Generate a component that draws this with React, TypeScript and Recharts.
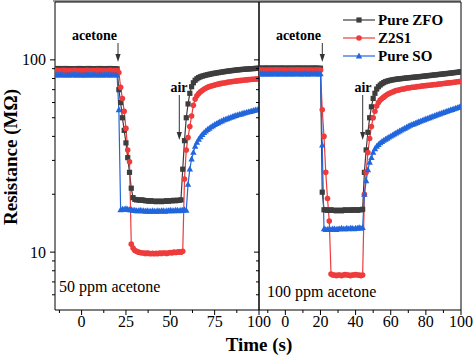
import React from 'react';
import { LineChart, Line, XAxis, YAxis, ReferenceLine } from 'recharts';

// time in seconds, same sampling for both panels
const TIME_S = [
  -15, -14, -13, -12, -11, -10, -9, -8, -7, -6, -5, -4, -3, -2, -1, 0, 1, 2, 3, 4,
  5, 6, 7, 8, 9, 10, 11, 12, 13, 14, 15, 16, 17, 18, 19, 20, 21, 22, 23, 24,
  25, 26, 27, 28, 29, 30, 31, 32, 33, 34, 35, 36, 37, 38, 39, 40, 41, 42, 43, 44,
  45, 46, 47, 48, 49, 50, 51, 52, 53, 54, 55, 56, 57, 58, 59, 60, 61, 62, 63, 64,
  65, 66, 67, 68, 69, 70, 71, 72, 73, 74, 75, 76, 77, 78, 79, 80, 81, 82, 83, 84,
  85, 86, 87, 88, 89, 90, 91, 92, 93, 94, 95, 96, 97, 98, 99, 100,
];

// 50 ppm acetone (MΩ)
const ZFO_50 = [
  90.1, 90.0, 90.2, 89.9, 90.0, 90.1, 90.2, 89.9, 90.0, 90.1,
  90.0, 89.8, 90.0, 90.1, 90.2, 90.0, 89.9, 90.1, 90.0, 90.2,
  90.1, 90.0, 89.9, 90.0, 90.1, 90.2, 90.0, 89.9, 90.1, 90.0,
  90.1, 90.2, 90.0, 89.9, 90.0, 89.8,
  70, 60, 50, 43, 37, 31, 26, 21.5, 19.2,
  18.8, 18.7, 18.7, 18.6, 18.7, 18.6, 18.5, 18.5, 18.4, 18.5,
  18.4, 18.4, 18.3, 18.4, 18.4, 18.3, 18.4, 18.4, 18.5, 18.4,
  18.5, 18.5, 18.6, 18.5, 18.6, 18.6, 18.7,
  27, 38, 50, 59, 67, 72.5, 76, 78.3, 79.8, 80.9,
  81.7, 82.3, 82.8, 83.3, 83.7, 84.1, 84.5, 84.9, 85.2, 85.5,
  85.8, 86.1, 86.4, 86.7, 87.0, 87.3, 87.5, 87.8, 88.0, 88.3,
  88.5, 88.7, 88.9, 89.1, 89.3, 89.4, 89.6, 89.7, 89.9, 90.0,
  90.1, 90.3, 90.4, 90.5,
];
const Z2S1_50 = [
  88.2, 88.0, 88.1, 87.9, 88.0, 88.2, 88.1, 87.9, 88.0, 88.1,
  88.0, 88.2, 87.9, 88.0, 88.1, 88.0, 87.8, 88.0, 88.2, 88.1,
  88.0, 87.9, 88.1, 88.0, 88.2, 88.0, 87.9, 88.1, 88.0, 88.1,
  88.0, 88.2, 88.0, 87.9, 88.1, 88.0,
  86, 72, 63, 54, 44, 34, 29.5,
  11, 10.5, 10.2, 10.1, 10.0, 9.95, 9.9, 9.9, 9.85, 9.9,
  9.85, 9.8, 9.85, 9.8, 9.85, 9.8, 9.9, 9.85, 9.9, 9.9,
  9.85, 9.9, 9.95, 9.9, 10.0, 9.95, 10.0, 10.05, 10.0, 10.1,
  24, 34, 39.5, 45, 51, 58, 62.5, 65, 66.8, 68.2,
  69.3, 70.3, 71.2, 72.0, 72.6, 73.1, 73.6, 74.0, 74.4, 74.8,
  75.2, 75.5, 75.8, 76.1, 76.4, 76.7, 77.0, 77.2, 77.4, 77.6,
  77.8, 78.0, 78.2, 78.4, 78.6, 78.7, 78.9, 79.0, 79.2, 79.3,
  79.5, 79.6, 79.8,
];
const SO_50 = [
  83.6, 83.4, 83.5, 83.7, 83.5, 83.3, 83.5, 83.6, 83.4, 83.5,
  83.5, 83.7, 83.4, 83.5, 83.6, 83.3, 83.5, 83.4, 83.6, 83.5,
  83.4, 83.5, 83.7, 83.5, 83.4, 83.6, 83.5, 83.3, 83.5, 83.6,
  83.5, 83.4, 83.6, 83.5, 83.5, 83.3,
  55,
  16.6, 16.7, 16.7, 16.8, 16.7, 16.6, 16.6, 16.5, 16.5, 16.4,
  16.4, 16.5, 16.4, 16.4, 16.3, 16.4, 16.3, 16.3, 16.4, 16.3,
  16.3, 16.4, 16.3, 16.4, 16.4, 16.3, 16.4, 16.4, 16.5, 16.4,
  16.4, 16.5, 16.5, 16.4, 16.5, 16.5, 16.6, 16.5,
  22.5, 27, 30.5, 33, 35.5, 37.2, 38.6, 39.8, 40.9,
  41.8, 42.6, 43.4, 44.1, 44.8, 45.4, 46.0, 46.6, 47.1, 47.6,
  48.1, 48.6, 49.0, 49.4, 49.8, 50.2, 50.6, 51.0, 51.3, 51.7,
  52.0, 52.3, 52.7, 53.0, 53.3, 53.6, 53.9, 54.2, 54.5, 54.8,
  55.0, 55.3,
];

// 100 ppm acetone (MΩ)
const ZFO_100 = [
  90.5, 90.6, 90.4, 90.5, 90.7, 90.5, 90.4, 90.6, 90.5, 90.5,
  90.6, 90.4, 90.5, 90.7, 90.5, 90.4, 90.5, 90.6, 90.5, 90.4,
  90.6, 90.5, 90.5, 90.7, 90.4, 90.5, 90.6, 90.5, 90.4, 90.6,
  90.5, 90.5, 90.7, 90.5, 90.4, 90.5,
  20.5,
  16.6, 16.6, 16.5, 16.5, 16.6, 16.5, 16.5, 16.4, 16.5, 16.5,
  16.4, 16.5, 16.6, 16.5, 16.5, 16.6, 16.5, 16.6, 16.6, 16.5,
  16.6, 16.6, 16.7,
  26, 34, 42, 50, 57, 63, 67, 70.5, 72.5, 74,
  75.2, 76.2, 77.0, 77.5, 78.0, 78.4, 78.7, 79.0, 79.3, 79.5,
  79.7, 79.9, 80.1, 80.3, 80.5, 80.7, 80.9, 81.0, 81.2, 81.4,
  81.5, 81.7, 81.9, 82.1, 82.3, 82.5, 82.7, 82.9, 83.1, 83.3,
  83.5, 83.7, 83.9, 84.1, 84.3, 84.5, 84.7, 84.9, 85.1, 85.3,
  85.5, 85.8, 86.0, 86.2, 86.5, 86.8,
];
const Z2S1_100 = [
  88.5, 88.4, 88.6, 88.5, 88.3, 88.5, 88.6, 88.4, 88.5, 88.5,
  88.7, 88.5, 88.4, 88.5, 88.6, 88.5, 88.3, 88.5, 88.6, 88.4,
  88.5, 88.5, 88.7, 88.4, 88.5, 88.6, 88.5, 88.4, 88.5, 88.6,
  88.5, 88.3, 88.5, 88.6, 88.5, 88.4,
  55, 40, 26, 19, 14.5,
  7.7, 7.6, 7.6, 7.55, 7.6, 7.6, 7.55, 7.6, 7.65, 7.6,
  7.6, 7.55, 7.6, 7.6, 7.65, 7.6, 7.6, 7.55, 7.6,
  20, 26, 33, 39, 45, 50, 54, 57.5, 60, 61.8,
  63, 64, 65, 66, 66.8, 67.5, 68.1, 68.6, 69.3, 69.5,
  69.9, 70.4, 70.5, 70.8, 71.3, 71.4, 71.6, 72.0, 72.1, 72.3,
  72.6, 72.7, 72.9, 73.2, 73.3, 73.5, 73.7, 73.8, 74.0, 74.2,
  74.4, 74.5, 74.8, 74.9, 75.1, 75.4, 75.5, 75.7, 75.9, 76.1,
  76.3, 76.5, 76.7, 76.9, 77.1, 77.3,
];
const SO_100 = [
  84.5, 84.4, 84.6, 84.5, 84.3, 84.5, 84.6, 84.4, 84.5, 84.5,
  84.6, 84.4, 84.5, 84.7, 84.5, 84.4, 84.5, 84.6, 84.5, 84.4,
  84.6, 84.5, 84.5, 84.7, 84.4, 84.5, 84.6, 84.5, 84.4, 84.6,
  84.5, 84.5, 84.6, 84.5, 84.4, 84.5,
  36,
  13.2, 13.1, 13.1, 13.2, 13.1, 13.2, 13.2, 13.1, 13.2, 13.2,
  13.3, 13.2, 13.2, 13.3, 13.2, 13.3, 13.3, 13.2, 13.3, 13.3,
  13.4, 13.3, 13.4,
  20, 23.5, 26.8, 29.3, 31, 33, 34.5, 35.5, 36.3, 37,
  37.6, 38.1, 38.6, 39.1, 39.6, 40.1, 40.6, 41.1, 41.6, 42.1,
  42.6, 43.1, 43.6, 44.1, 44.6, 45.1, 45.6, 46.0, 46.4, 46.8,
  47.2, 47.6, 48.0, 48.4, 48.8, 49.2, 49.6, 50.0, 50.4, 50.8,
  51.2, 51.6, 52.0, 52.4, 52.8, 53.2, 53.6, 54.0, 54.4, 54.8,
  55.2, 55.6, 56.0, 56.4, 56.8, 57.2,
];

const Y_TICKS = [6, 7, 8, 9, 10, 20, 30, 40, 50, 60, 70, 80, 90, 100];
const Y_LABELS = [10, 100];
const X_TICKS_50 = [-12.5, 0, 12.5, 25, 37.5, 50, 62.5, 75, 87.5, 100];
const X_LABELS_50 = [0, 25, 50, 75, 100];
const X_TICKS_100 = [-10, 0, 10, 20, 30, 40, 50, 60, 70, 80, 90, 100];
const X_LABELS_100 = [0, 20, 40, 60, 80, 100];

const SERIES = [
  { key: 'zfo', name: 'Pure ZFO', color: '#3d3d3d', shape: 'square' },
  { key: 'z2s1', name: 'Z2S1', color: '#ee3b3b', shape: 'circle' },
  { key: 'so', name: 'Pure SO', color: '#2266dd', shape: 'triangle' },
];

const FONT = '"Liberation Serif", "Times New Roman", serif';

const data50 = TIME_S.map((t, i) => ({ t, zfo: ZFO_50[i], z2s1: Z2S1_50[i], so: SO_50[i] }));
const data100 = TIME_S.map((t, i) => ({ t, zfo: ZFO_100[i], z2s1: Z2S1_100[i], so: SO_100[i] }));

function Marker({ shape, color, cx, cy }: any) {
  if (shape === 'square') return <rect x={cx - 2.6} y={cy - 2.6} width={5.2} height={5.2} fill={color} />;
  if (shape === 'circle') return <circle cx={cx} cy={cy} r={2.8} fill={color} />;
  return <polygon points={`${cx},${cy - 3.5} ${cx + 3.2},${cy + 2.4} ${cx - 3.2},${cy + 2.4}`} fill={color} />;
}

const dotFor = (shape: string, color: string) => (p: any) => {
  if (p.cx == null || p.cy == null) return <g key={p.index} />;
  return <Marker key={p.index} shape={shape} color={color} cx={p.cx} cy={p.cy} />;
};

function XTick({ x, y, value, labels }: any) {
  const major = labels.includes(value);
  return (
    <g>
      <line x1={x} y1={y} x2={x} y2={y + (major ? 5 : 3)} stroke="#000" />
      {major && (
        <text x={x} y={y + 17} textAnchor="middle" fontSize={16} fontFamily={FONT} fill="#000">
          {value}
        </text>
      )}
    </g>
  );
}

function YTick({ x, y, value, showLabel }: any) {
  const major = Y_LABELS.includes(value);
  return (
    <g>
      <line x1={x - (major ? 5 : 3)} y1={y} x2={x} y2={y} stroke="#000" />
      {major && showLabel && (
        <text x={x - 9} y={y + 5.5} textAnchor="end" fontSize={16} fontFamily={FONT} fill="#000">
          {value}
        </text>
      )}
    </g>
  );
}

function Panel({ left, width, yWidth, right, data, xTicks, xLabels, showYLabels }: any) {
  return (
    <div style={{ position: 'absolute', left, top: 0 }}>
      <LineChart width={width} height={359} data={data} margin={{ top: 2, right, bottom: 0, left: 0 }}>
        <XAxis
          dataKey="t"
          type="number"
          domain={[-15, 100]}
          allowDataOverflow
          ticks={xTicks}
          interval={0}
          height={49}
          tickSize={0}
          tickMargin={0}
          tickLine={false}
          axisLine={{ stroke: '#000' }}
          tick={(p: any) => <XTick x={p.x} y={p.y} value={p.payload.value} labels={xLabels} />}
        />
        <YAxis
          type="number"
          scale="log"
          domain={[5, 200]}
          allowDataOverflow
          ticks={Y_TICKS}
          interval={0}
          width={yWidth}
          tickSize={0}
          tickMargin={0}
          tickLine={false}
          axisLine={{ stroke: '#000' }}
          tick={(p: any) => <YTick x={p.x} y={p.y} value={p.payload.value} showLabel={showYLabels} />}
        />
        <ReferenceLine y={200} stroke="#000" />
        <ReferenceLine x={100} stroke="#000" />
        {SERIES.map((s) => (
          <Line
            key={s.key}
            type="linear"
            dataKey={s.key}
            stroke={s.color}
            strokeWidth={1.2}
            dot={dotFor(s.shape, s.color)}
            activeDot={false}
            isAnimationActive={false}
          />
        ))}
      </LineChart>
    </div>
  );
}

function Arrow({ x, y1, y2 }: any) {
  return (
    <g>
      <line x1={x} y1={y1} x2={x} y2={y2 - 6} stroke="#333" strokeWidth={1} />
      <polygon points={`${x - 2.6},${y2 - 8} ${x + 2.6},${y2 - 8} ${x},${y2}`} fill="#333" />
    </g>
  );
}

export default function App() {
  return (
    <div style={{ position: 'absolute', left: 0, top: 0, width: 474, height: 359, background: '#fff', fontFamily: FONT }}>
      <div style={{ position: 'absolute', left: 53, top: 0, width: 408, height: 2, background: '#9a9a9a' }} />
      <Panel left={0} width={274} yWidth={55} right={15} data={data50} xTicks={X_TICKS_50} xLabels={X_LABELS_50} showYLabels />
      <Panel left={249} width={225} yWidth={10} right={13} data={data100} xTicks={X_TICKS_100} xLabels={X_LABELS_100} showYLabels={false} />
      <svg width={474} height={359} style={{ position: 'absolute', left: 0, top: 0, pointerEvents: 'none' }} fontFamily={FONT}>
        <text transform="translate(17,157) rotate(-90)" textAnchor="middle" fontSize={19} fontWeight="bold" fill="#000">
          Resistance (MΩ)
        </text>
        <text x={259} y={351} textAnchor="middle" fontSize={19} fontWeight="bold" fill="#000">
          Time (s)
        </text>

        <text x={117} y={40} textAnchor="end" fontSize={14} fontWeight="bold" fill="#000">acetone</text>
        <Arrow x={118} y1={43} y2={62} />
        <text x={179} y={92} textAnchor="middle" fontSize={14} fontWeight="bold" fill="#000">air</text>
        <Arrow x={179.3} y1={95} y2={140} />

        <text x={321} y={40} textAnchor="end" fontSize={14} fontWeight="bold" fill="#000">acetone</text>
        <Arrow x={322.3} y1={43} y2={62} />
        <text x={363} y={92} textAnchor="middle" fontSize={14} fontWeight="bold" fill="#000">air</text>
        <Arrow x={362.7} y1={95} y2={140} />

        <text x={59} y={292} fontSize={16} fill="#000">50 ppm acetone</text>
        <text x={267} y={297} fontSize={16} fill="#000">100 ppm acetone</text>

        {SERIES.map((s, i) => (
          <g key={s.key}>
            <line x1={343} x2={375} y1={20 + i * 18} y2={20 + i * 18} stroke={s.color} strokeWidth={1.2} />
            <Marker shape={s.shape} color={s.color} cx={359} cy={20 + i * 18} />
            <text x={378} y={25 + i * 18} fontSize={15} fontWeight="bold" fill="#000">{s.name}</text>
          </g>
        ))}
      </svg>
    </div>
  );
}
